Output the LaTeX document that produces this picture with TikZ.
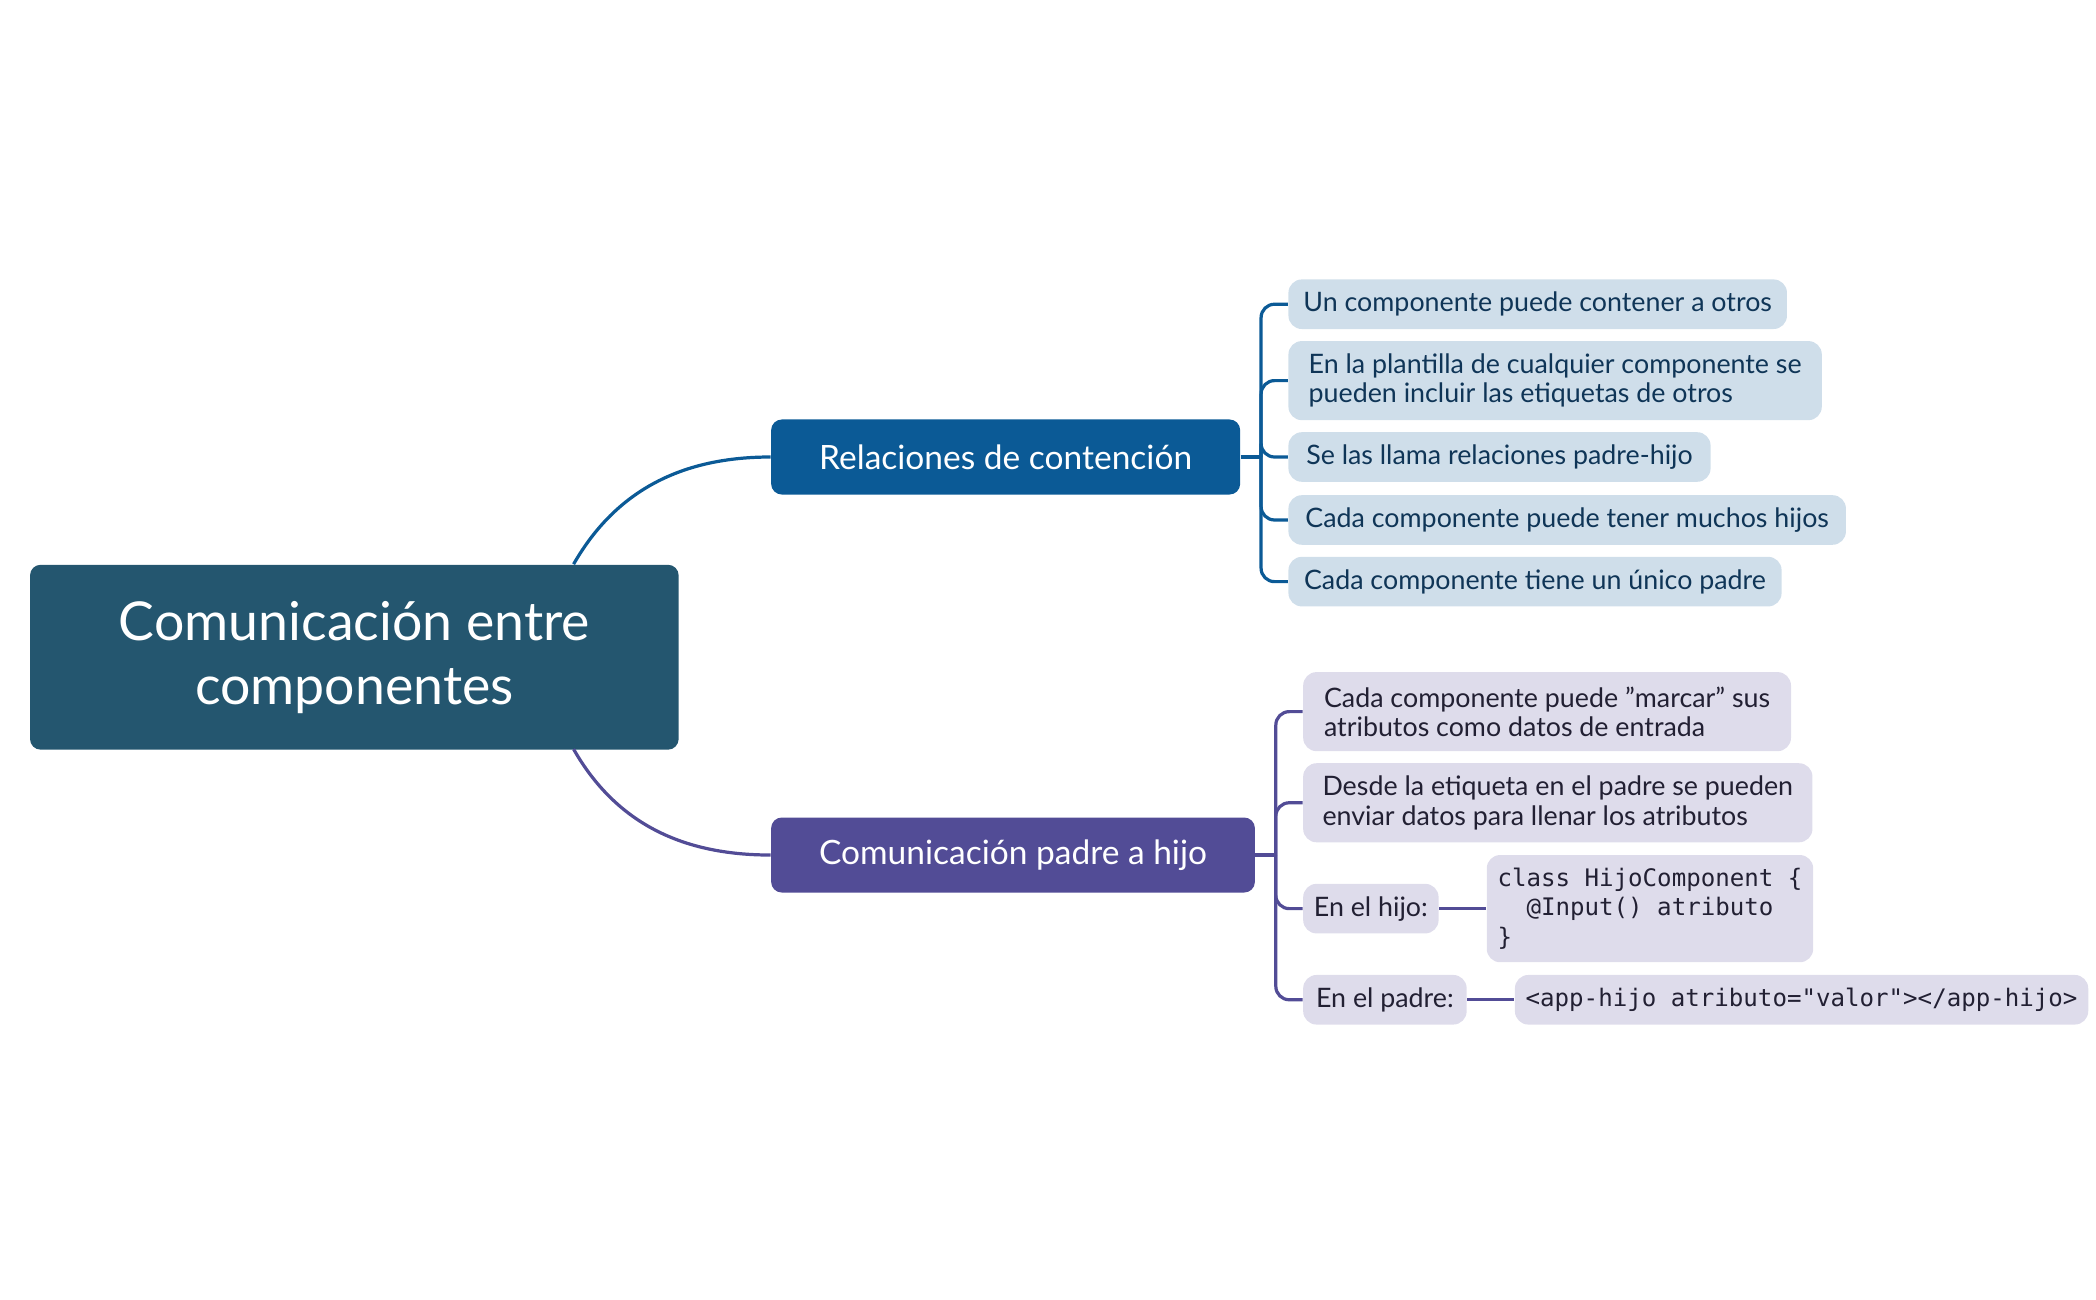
\documentclass[tikz,border=0pt]{standalone}
\usepackage{fontspec}
\setmainfont{Lato}
\setmonofont{DejaVu Sans Mono}
\definecolor{rootc}{HTML}{24566F}
\definecolor{relc}{HTML}{0B5A96}
\definecolor{comc}{HTML}{524C96}
\definecolor{leafa}{HTML}{CFDEEA}
\definecolor{leafb}{HTML}{DEDCEB}
\definecolor{texta}{HTML}{0F3557}
\definecolor{textb}{HTML}{222033}
\begin{document}
\begin{tikzpicture}[x=0.5pt,y=-0.5pt,
  leaf/.style={anchor=west,rounded corners=5pt,inner xsep=4pt,inner ysep=0pt,align=left,font=\fontsize{10}{11}\selectfont},
  leafA/.style={leaf,fill=leafa,text=texta},
  leafB/.style={leaf,fill=leafb,text=textb},
  mainb/.style={anchor=west,rounded corners=4pt,text=white,inner sep=0pt,font=\fontsize{12.5}{14}\selectfont},
  conA/.style={relc,line width=1.2pt},
  conB/.style={comc,line width=1.2pt},
  brA/.style={conA,rounded corners=5pt},
  brB/.style={conB,rounded corners=5pt}]
\useasboundingbox (0,0) rectangle (1564,970);
\node[anchor=north west,fill=rootc,rounded corners=4pt,minimum width=242pt,minimum height=69pt,inner sep=0pt,align=center,text=white,font=\fontsize{20}{24}\selectfont] (root) at (22,421) {Comunicación entre\\componentes};
\node[mainb,fill=relc,minimum width=175pt,minimum height=28pt] (rel) at (575,341) {Relaciones de contención};
\node[mainb,fill=comc,minimum width=180.5pt,minimum height=28pt] (com) at (575,638) {Comunicación padre a hijo};
\coordinate (rt) at (428,421);
\coordinate (rb) at (428,559);
\draw[conA] (rt) .. controls (460,365) and (510,341) .. (rel.west);
\draw[conB] (rb) .. controls (460,615) and (510,638) .. (com.west);
% top leaves
\node[leafA,minimum width=186pt,minimum height=18.5pt] (a1) at (961,227) {Un componente puede contener a otros};
\node[leafA,minimum width=199pt,minimum height=29.5pt] (a2) at (961,284) {En la plantilla de cualquier componente se\\pueden incluir las etiquetas de otros};
\node[leafA,minimum width=157.5pt,minimum height=18.5pt] (a3) at (961,341) {Se las llama relaciones padre-hijo};
\node[leafA,minimum width=208pt,minimum height=18.5pt] (a4) at (961,388) {Cada componente puede tener muchos hijos};
\node[leafA,minimum width=184pt,minimum height=18.5pt] (a5) at (961,434) {Cada componente tiene un único padre};
\coordinate (ba) at (941,341);
\draw[conA] (rel.east) -- (ba);
\foreach \n in {a1,a2,a3,a4,a5} \draw[brA] (ba) |- (\n.west);
% bottom leaves
\node[leafB,minimum width=182pt,minimum height=29.5pt] (b1) at (972,531) {Cada componente puede "marcar" sus\\atributos como datos de entrada};
\node[leafB,minimum width=190pt,minimum height=29.5pt] (b2) at (972,599) {Desde la etiqueta en el padre se pueden\\enviar datos para llenar los atributos};
\node[leafB,minimum width=50.5pt,minimum height=18.5pt] (b3) at (972,678) {En el hijo:};
\node[leafB,minimum width=61pt,minimum height=18.5pt] (b4) at (972,746) {En el padre:};
\node[leafB,minimum width=118.5pt,minimum height=40pt,font=\ttfamily\fontsize{9}{11}\selectfont] (c1) at (1109,678) {class HijoComponent \{\\\ \ @Input() atributo\\\}};
\node[leafB,minimum width=207.5pt,minimum height=18.5pt,font=\ttfamily\fontsize{9}{11}\selectfont] (c2) at (1130,746) {<app-hijo atributo="valor"></app-hijo>};
\coordinate (bb) at (952,638);
\draw[conB] (com.east) -- (bb);
\foreach \n in {b1,b2,b3,b4} \draw[brB] (bb) |- (\n.west);
\draw[conB] (b3.east) -- (c1.west);
\draw[conB] (b4.east) -- (c2.west);
\end{tikzpicture}
\end{document}
